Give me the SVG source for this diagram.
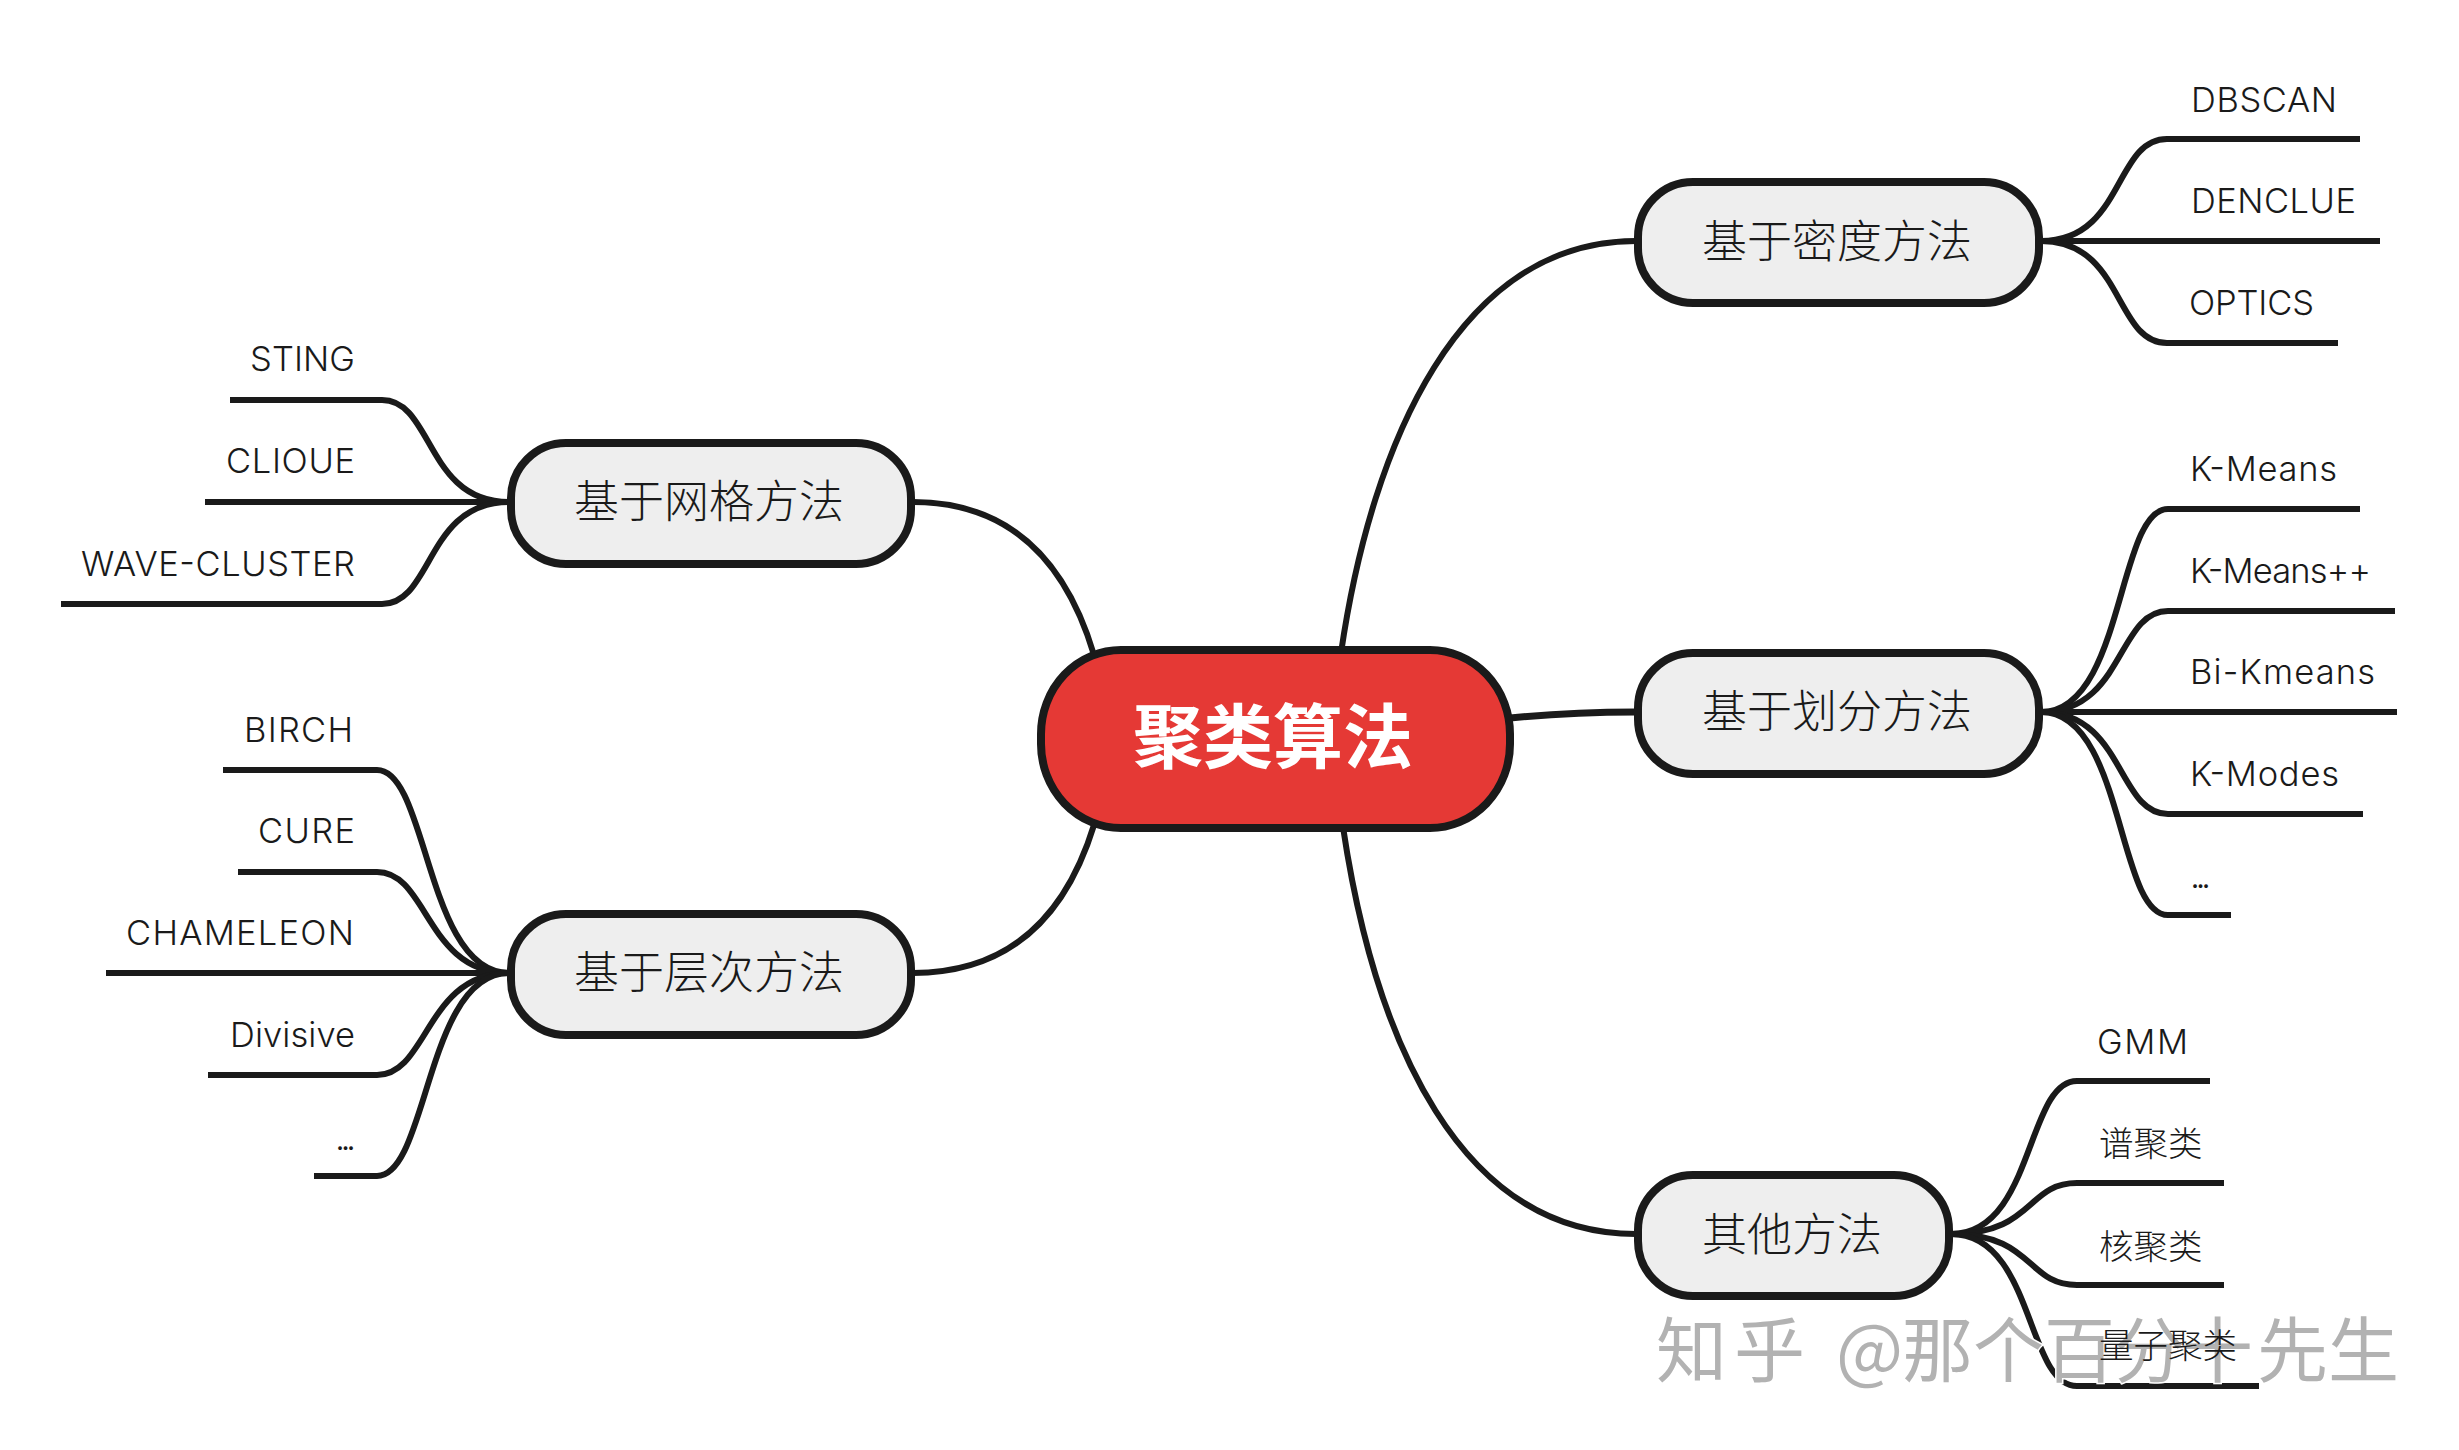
<svg xmlns="http://www.w3.org/2000/svg" width="2459" height="1450" viewBox="0 0 2459 1450">
<style>
text{font-family:"Noto Sans CJK SC","Noto Sans",sans-serif;fill:#1a1a1a}
.b{fill:#eeeeee;stroke:#1a1a1a;stroke-width:8}
.n{font-size:45px;font-weight:300}
.l{font-family:Inter,"Noto Sans CJK SC",sans-serif;font-size:34.5px;font-weight:300}
.d{font-family:Inter,sans-serif;font-size:28px;font-weight:400}
.c{font-size:34.5px;font-weight:300}
.m{fill:none;stroke:#1a1a1a;stroke-width:6;stroke-linecap:butt}
.t{fill:none;stroke:#1a1a1a;stroke-width:7}
</style>
<rect width="2459" height="1450" fill="#fff"/>
<g id="connectors" transform="translate(0 1)">
<path class="m" d="M1341 652C1372 440 1460 240 1636 240"/>
<path class="t" d="M1510 717C1550 713 1590 711 1636 711"/>
<path class="m" d="M1343 826C1375 1040 1460 1233 1636 1233"/>
<path class="m" d="M1094 654C1066 560 1010 501 913 501"/>
<path class="m" d="M1094 824C1066 915 1010 972 913 972"/>
<path class="m" d="M2041 240C2124 240 2114 138 2167 138H2360"/>
<path class="m" d="M2041 240H2380"/>
<path class="m" d="M2041 240C2124 240 2114 342 2167 342H2338"/>
<path class="m" d="M2041 711C2124 711 2117 508 2168 508H2360"/>
<path class="m" d="M2041 711C2124 711 2117 610 2168 610H2395"/>
<path class="m" d="M2041 711H2397"/>
<path class="m" d="M2041 711C2124 711 2117 813 2168 813H2363"/>
<path class="m" d="M2041 711C2124 711 2117 914 2168 914H2231"/>
<path class="m" d="M1951 1233C2034 1233 2026 1080 2077 1080H2210"/>
<path class="m" d="M1951 1233C2034 1233 2026 1182 2077 1182H2224"/>
<path class="m" d="M1951 1233C2034 1233 2026 1284 2077 1284H2224"/>
<path class="m" d="M1951 1233C2034 1233 2026 1385 2077 1385H2259"/>
<path class="m" d="M509 501C426 501 433 399 382 399H230"/>
<path class="m" d="M509 501H205"/>
<path class="m" d="M509 501C426 501 433 603 382 603H61"/>
<path class="m" d="M509 972C426 972 428 769 377 769H223"/>
<path class="m" d="M509 972C426 972 428 871 377 871H238"/>
<path class="m" d="M509 972H106"/>
<path class="m" d="M509 972C426 972 428 1074 377 1074H208"/>
<path class="m" d="M509 972C426 972 428 1175 377 1175H314"/>
</g>
<g id="watermark"><text x="1656 1734 1790 1836 1902 1973 2044 2114 2182 2257 2328" y="1376" font-size="71" stroke="#fff" stroke-width="3" paint-order="stroke" style="fill:#b2b2b2">知乎 @那个百分十先生</text></g>
<g id="root"><rect x="1041" y="650" width="469" height="178" rx="80" ry="84" fill="#e53935" stroke="#1a1a1a" stroke-width="8"/><text x="1273" y="763" font-size="70" font-weight="700" text-anchor="middle" style="fill:#fff">聚类算法</text></g>
<g id="density"><rect class="b" x="1638" y="182" width="401" height="121" rx="55"/><text class="n" x="1837" y="257.5" text-anchor="middle">基于密度方法</text></g>
<g id="partition"><rect class="b" x="1638" y="653" width="401" height="121" rx="55"/><text class="n" x="1837" y="728" text-anchor="middle">基于划分方法</text></g>
<g id="other"><rect class="b" x="1638" y="1175" width="311" height="121" rx="55"/><text class="n" x="1792" y="1250.5" text-anchor="middle">其他方法</text></g>
<g id="grid"><rect class="b" x="511" y="443" width="400" height="121" rx="55"/><text class="n" x="709" y="518" text-anchor="middle">基于网格方法</text></g>
<g id="hier"><rect class="b" x="511" y="914" width="400" height="121" rx="55"/><text class="n" x="709" y="989" text-anchor="middle">基于层次方法</text></g>
<g id="density-items">
<text class="l" x="2191" y="112" textLength="146">DBSCAN</text>
<text class="l" x="2191" y="213" textLength="165">DENCLUE</text>
<text class="l" x="2189" y="315" textLength="125">OPTICS</text></g>
<g id="partition-items">
<text class="l" x="2190" y="481" textLength="147">K-Means</text>
<text class="l" x="2190" y="583" textLength="181">K-Means++</text>
<text class="l" x="2190" y="684" textLength="185">Bi-Kmeans</text>
<text class="l" x="2190" y="786" textLength="149">K-Modes</text>
<text class="d" x="2191" y="888" textLength="19">...</text></g>
<g id="other-items">
<text class="l" x="2097" y="1054" textLength="91">GMM</text>
<text class="c" x="2099" y="1156">谱聚类</text>
<text class="c" x="2099" y="1259">核聚类</text>
<text class="c" x="2099" y="1358">量子聚类</text></g>
<g id="grid-items">
<text class="l" x="250" y="371" textLength="105">STING</text>
<text class="l" x="226" y="473" textLength="129">CLIOUE</text>
<text class="l" x="81" y="576" textLength="274">WAVE-CLUSTER</text></g>
<g id="hier-items">
<text class="l" x="244" y="742" textLength="109">BIRCH</text>
<text class="l" x="258" y="843" textLength="97">CURE</text>
<text class="l" x="126" y="945" textLength="228">CHAMELEON</text>
<text class="l" x="230" y="1047" textLength="125">Divisive</text>
<text class="d" x="336" y="1150" textLength="19">...</text></g>
</svg>
